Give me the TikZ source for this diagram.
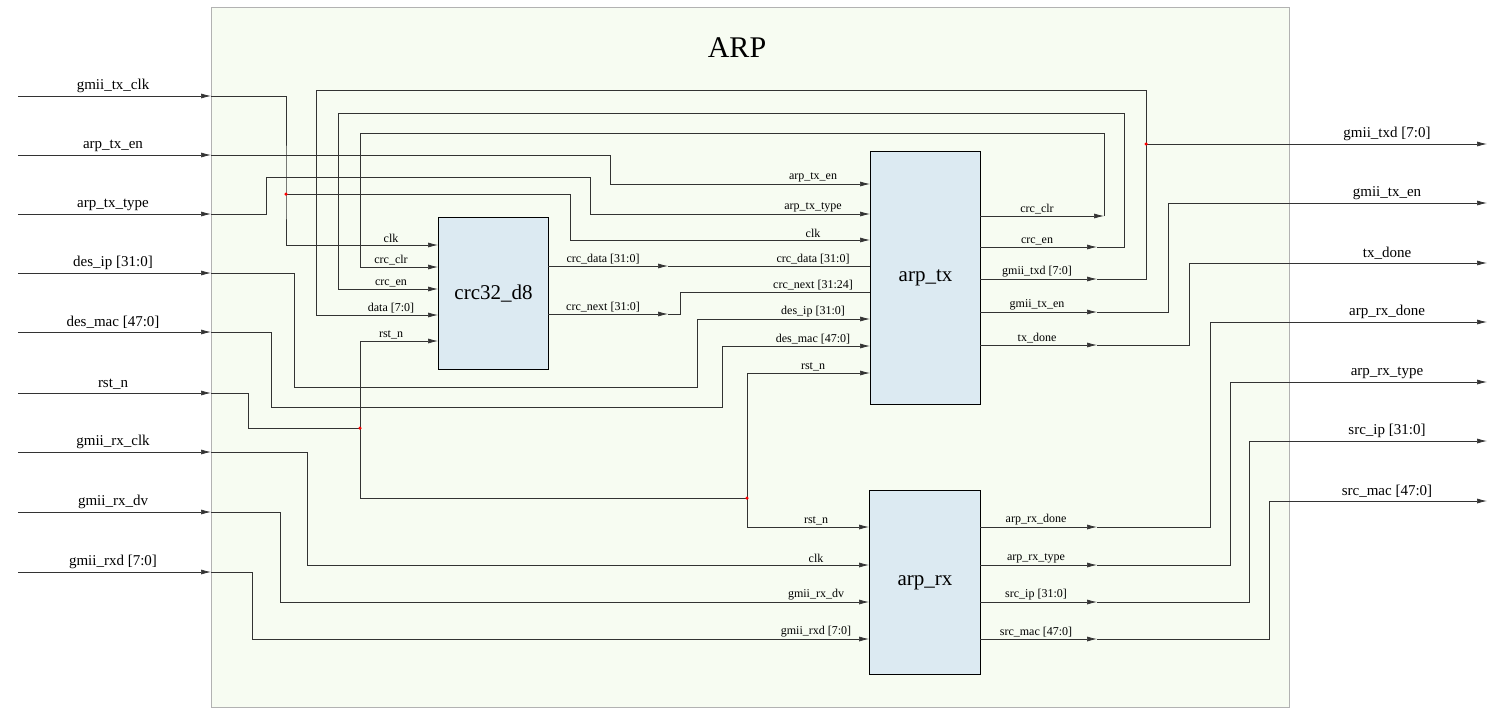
\documentclass[tikz,border=0pt]{standalone}
\usepackage{fontspec}
\setmainfont{Liberation Serif}
\usetikzlibrary{arrows.meta}
\definecolor{blkfill}{HTML}{DCEAF2}
\definecolor{bgfill}{HTML}{F7FCF2}
\begin{document}
\begin{tikzpicture}[x=1pt,y=-1pt,
  w/.style={draw=black!80,line width=0.7pt},
  a/.style={w,-{Latex[length=10pt,width=5pt]}},
  blk/.style={draw=black,line width=1pt,fill=blkfill,anchor=north west,inner sep=0pt},
  pl/.style={font=\fontsize{12}{12}\selectfont,anchor=south,inner sep=2pt},
  io/.style={font=\fontsize{15}{15}\selectfont,anchor=south,inner sep=3pt},
  dot/.style={circle,fill=red,inner sep=0pt,minimum size=3.5pt}]
\useasboundingbox (0,0) rectangle (1501,721);
\node[draw=black!30,fill=bgfill,minimum width=1078pt,minimum height=700pt,anchor=north west,inner sep=0pt] (arp) at (211,7) {};
\node[font=\fontsize{30}{30}\selectfont] (title) at (737,48) {ARP};
% blocks
\node[blk,minimum width=110pt,minimum height=152pt] (crc) at (438,217) {};
\node[font=\fontsize{21}{21}\selectfont] at (crc.center) {crc32\_d8};
\node[blk,minimum width=110pt,minimum height=253pt] (tx) at (870,151) {};
\node[font=\fontsize{21}{21}\selectfont] at (tx.center) {arp\_tx};
\node[blk,minimum width=111pt,minimum height=184pt] (rx) at (869,490) {};
\node[font=\fontsize{21}{21}\selectfont] at (rx.center) {arp\_rx};
% inputs
\foreach \n/\y/\t in {i1/96/gmii\_tx\_clk,i2/155/arp\_tx\_en,i3/214/arp\_tx\_type,i4/273/des\_ip [31:0],i5/332/des\_mac [47:0],i6/393/rst\_n,i7/452/gmii\_rx\_clk,i8/512/gmii\_rx\_dv,i9/572/gmii\_rxd [7:0]}{
  \coordinate (s\n) at (18,\y); \coordinate (\n) at (211,\y);
  \draw[a] (s\n) -- (\n);
  \node[io] at (113,\y) {\t};}
% outputs
\foreach \n/\y/\t in {o1/144/gmii\_txd [7:0],o2/203/gmii\_tx\_en,o3/263/tx\_done,o4/322/arp\_rx\_done,o5/382/arp\_rx\_type,o6/441/src\_ip [31:0],o7/501/src\_mac [47:0]}{
  \coordinate (\n) at (1289,\y); \coordinate (e\n) at (1487,\y);
  \draw[a] (\n) -- (e\n);
  \node[io] at (1387,\y) {\t};}
% crc ports
\foreach \n/\y/\t in {cclk/245/clk,cclr/267/crc\_clr,cen/289/crc\_en,cdat/315/data [7:0],crst/341/rst\_n}{
  \coordinate (\n) at (438,\y); \node[pl] at (391,\y) {\t};}
\foreach \n/\y/\t in {cdo/266/crc\_data [31:0],cno/314/crc\_next [31:0]}{
  \coordinate (\n) at (548,\y); \coordinate (m\n) at (668,\y); \node[pl] at (603,\y) {\t};}
% tx ports
\foreach \n/\y/\t in {ten/184/arp\_tx\_en,ttype/214/arp\_tx\_type,tclk/240/clk,tcd/266/crc\_data [31:0],tcn/292/crc\_next [31:24],tip/319/des\_ip [31:0],tmac/346/des\_mac [47:0],trst/373/rst\_n}{
  \coordinate (\n) at (870,\y); \node[pl] at (813,\y) {\t};}
\foreach \n/\y/\t in {tclr/216/crc\_clr,tcen/247/crc\_en,ttxd/279/gmii\_txd [7:0],ttxen/312/gmii\_tx\_en,tdone/345/tx\_done}{
  \coordinate (\n) at (980,\y); \coordinate (m\n) at (1104,\y); \node[pl] at (1037,\y) {\t};}
% rx ports
\foreach \n/\y/\t in {rrst/527/rst\_n,rclk/565/clk,rdv/602/gmii\_rx\_dv,rrxd/639/gmii\_rxd [7:0]}{
  \coordinate (\n) at (869,\y); \node[pl] at (816,\y) {\t};}
\foreach \n/\y/\t in {rdone/527/arp\_rx\_done,rtype/565/arp\_rx\_type,rip/602/src\_ip [31:0],rmac/639/src\_mac [47:0]}{
  \coordinate (\n) at (980,\y); \coordinate (m\n) at (1097,\y); \node[pl] at (1036,\y) {\t};}
% junctions
\coordinate (j1) at (286,194); \coordinate (j2) at (360,428); \coordinate (j3) at (747,498); \coordinate (j4) at (1146,144);
% input wiring
\draw[a] (i1) -| (j1) |- (cclk);
\draw[a] (j1) -| (570,240) |- (tclk);
\draw[a] (i7) -| (307,565) |- (rclk);
\draw[a] (i2) -| (610,184) |- (ten);
\draw[a] (i3) -| (266,177) -| (590,214) |- (ttype);
\draw[a] (i4) -| (294,387) -| (697,319) |- (tip);
\draw[a] (i5) -| (271,407) -| (722,346) |- (tmac);
\draw[w] (i6) -| (248,428) -- (j2);
\draw[a] (j2) |- (crst);
\draw[w] (j2) |- (j3);
\draw[a] (j3) |- (trst);
\draw[a] (j3) |- (rrst);
\draw[a] (i8) -| (280,602) |- (rdv);
\draw[a] (i9) -| (252,639) |- (rrxd);
% crc outputs
\draw[a] (cdo) -- (mcdo); \draw[w] (mcdo) -- (tcd);
\draw[a] (cno) -- (mcno); \draw[w] (mcno) -| (680,292) -- (tcn);
% tx outputs
\draw[a] (tclr) -- (mtclr); \draw[w] (mtclr) |- (360,133);
\draw[a] (360,133) |- (cclr);
\draw[a] (tcen) -- (1097,247); \draw[w] (1097,247) -| (1124,113) -| (338,250);
\draw[a] (338,250) |- (cen);
\draw[a] (ttxd) -- (1097,279); \draw[w] (1097,279) -| (j4) |- (316,90);
\draw[a] (316,90) |- (cdat);
\draw[w] (j4) -- (o1);
\draw[a] (ttxen) -- (1097,312); \draw[w] (1097,312) -| (1168,203) -- (o2);
\draw[a] (tdone) -- (1097,345); \draw[w] (1097,345) -| (1189,263) -- (o3);
% rx outputs
\draw[a] (rdone) -- (mrdone); \draw[w] (mrdone) -| (1210,322) -- (o4);
\draw[a] (rtype) -- (mrtype); \draw[w] (mrtype) -| (1230,382) -- (o5);
\draw[a] (rip) -- (mrip); \draw[w] (mrip) -| (1249,441) -- (o6);
\draw[a] (rmac) -- (mrmac); \draw[w] (mrmac) -| (1269,501) -- (o7);
\foreach \j in {j1,j2,j3,j4} \node[dot] at (\j) {};
\end{tikzpicture}
\end{document}
